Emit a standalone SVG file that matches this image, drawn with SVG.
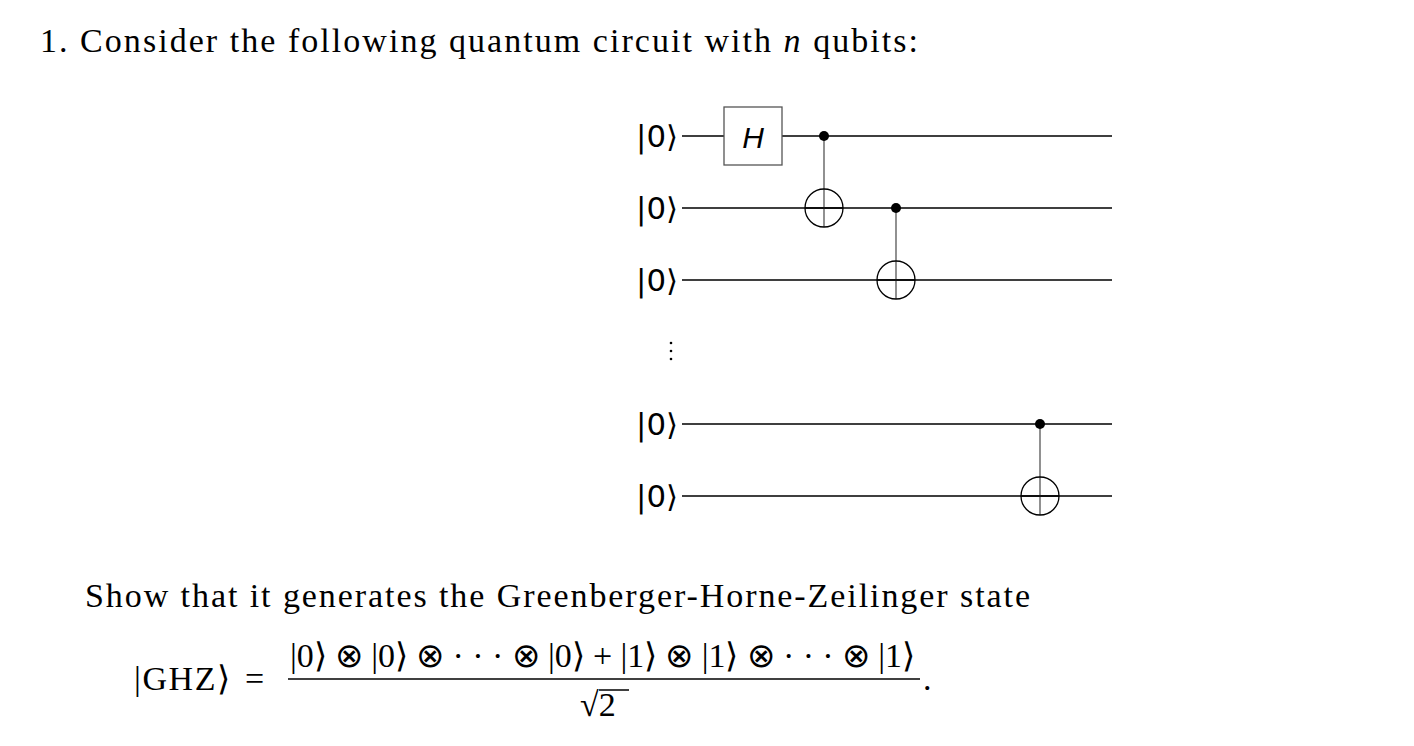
<svg xmlns="http://www.w3.org/2000/svg" width="1414" height="746" viewBox="0 0 1414 746">
<style>
.t{font-family:"Liberation Serif",serif;font-size:34px;fill:#000}
.k{font-family:"DejaVu Sans",sans-serif;font-size:30px;fill:#000}
.w{stroke:#000;stroke-width:1.3;fill:none}
.g{stroke:#555;stroke-width:1.3;fill:none}
</style>
<rect width="1414" height="746" fill="#fff"/>
<text class="t" x="40" y="52" textLength="878" lengthAdjust="spacing">1. Consider the following quantum circuit with <tspan font-style="italic">n</tspan> qubits:</text>
<g id="labels">
<text class="k" x="636" y="147" textLength="42" lengthAdjust="spacingAndGlyphs">|0⟩</text>
<text class="k" x="636" y="219" textLength="42" lengthAdjust="spacingAndGlyphs">|0⟩</text>
<text class="k" x="636" y="291" textLength="42" lengthAdjust="spacingAndGlyphs">|0⟩</text>
<text class="k" x="636" y="435" textLength="42" lengthAdjust="spacingAndGlyphs">|0⟩</text>
<text class="k" x="636" y="507" textLength="42" lengthAdjust="spacingAndGlyphs">|0⟩</text>
<g fill="#000"><circle cx="671" cy="343" r="1.3"/><circle cx="671" cy="351" r="1.3"/><circle cx="671" cy="359" r="1.3"/></g>
</g>
<g id="wires">
<path class="w" d="M682 136H724M782 136H1112M682 208H1112M682 280H1112M682 424H1112M682 496H1112"/>
</g>
<g id="H"><rect x="724" y="107" width="58" height="58" fill="#fff" stroke="#555" stroke-width="1.3"/>
<text x="753" y="148" text-anchor="middle" font-family="Liberation Sans,sans-serif" font-style="italic" font-size="30">H</text></g>
<g id="cnot1"><path class="g" d="M824 136V227"/><circle cx="824" cy="136" r="5" fill="#000"/><circle class="w" cx="824" cy="208" r="19"/><path class="w" d="M805 208H843"/></g>
<g id="cnot2"><path class="g" d="M896 208V299"/><circle cx="896" cy="208" r="5" fill="#000"/><circle class="w" cx="896" cy="280" r="19"/><path class="w" d="M877 280H915"/></g>
<g id="cnot3"><path class="g" d="M1040 424V515"/><circle cx="1040" cy="424" r="5" fill="#000"/><circle class="w" cx="1040" cy="496" r="19"/><path class="w" d="M1021 496H1059"/></g>
<text class="t" x="85" y="607" textLength="945" lengthAdjust="spacing">Show that it generates the Greenberger-Horne-Zeilinger state</text>
<g id="eq">
<text class="t" x="134" y="690" textLength="96" lengthAdjust="spacing">|GHZ⟩</text>
<text class="t" x="245" y="690">=</text>
<text class="t" x="290" y="667" textLength="625" lengthAdjust="spacing">|0⟩ ⊗ |0⟩ ⊗ · · · ⊗ |0⟩ + |1⟩ ⊗ |1⟩ ⊗ · · · ⊗ |1⟩</text>
<path d="M288 679H920" stroke="#000" stroke-width="1.6"/>
<text class="t" x="580" y="716">√2</text>
<path d="M599 690H629" stroke="#000" stroke-width="1.5"/>
<text class="t" x="923" y="690">.</text>
</g>
</svg>
